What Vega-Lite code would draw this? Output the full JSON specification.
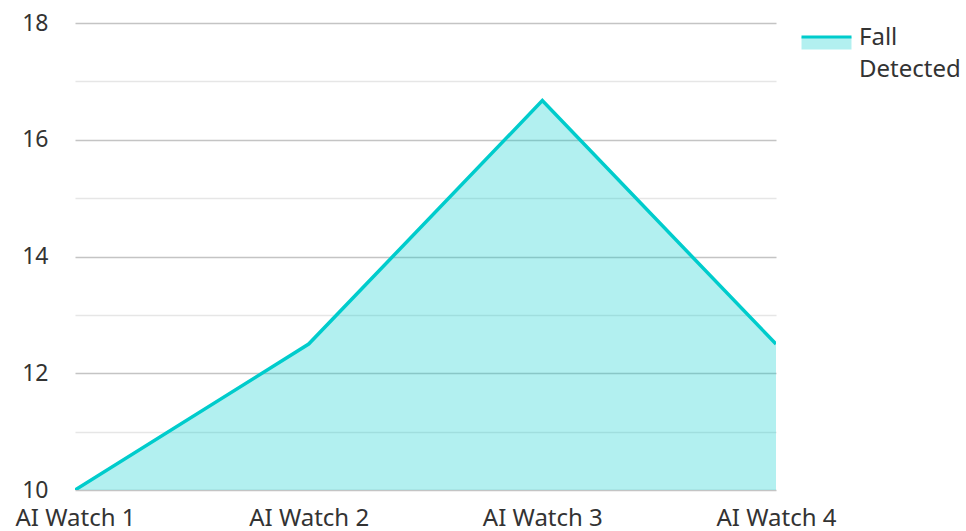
{
  "$schema": "https://vega.github.io/schema/vega-lite/v6.json",
  "width": 701,
  "height": 467,
  "autosize": "none",
  "padding": {"left": 75, "top": 23, "right": 190, "bottom": 41},
  "background": "white",
  "config": {
    "font": "Noto Sans",
    "view": {"stroke": null},
    "legend": {
      "title": null,
      "orient": "none",
      "legendX": 725,
      "legendY": -12,
      "padding": 0,
      "labelFontSize": 24,
      "labelColor": "#333333",
      "labelOffset": 6,
      "labelLimit": 300,
      "symbolType": "M-1,-0.02 L1,-0.02 L1,0.48 L-1,0.48 Z",
      "symbolSize": 2500,
      "symbolStrokeWidth": 3,
      "symbolDash": [50, 1000],
      "symbolOpacity": 1
    }
  },
  "data": {
    "values": [
      {"device": "AI Watch 1", "falls": 10},
      {"device": "AI Watch 2", "falls": 12.5},
      {"device": "AI Watch 3", "falls": 16.67},
      {"device": "AI Watch 4", "falls": 12.5}
    ]
  },
  "encoding": {
    "x": {
      "field": "device",
      "type": "ordinal",
      "scale": {"type": "point", "padding": 0},
      "axis": {
        "title": null,
        "labelAngle": 0,
        "labelFontSize": 24,
        "labelColor": "#333333",
        "labelPadding": 16,
        "ticks": false,
        "domain": false,
        "grid": false
      }
    },
    "y": {
      "field": "falls",
      "type": "quantitative",
      "scale": {"domain": [10, 18], "nice": false, "zero": false},
      "axis": {
        "title": null,
        "values": [10, 11, 12, 13, 14, 15, 16, 17, 18],
        "labelExpr": "datum.value % 2 === 0 ? datum.label : ''",
        "labelFontSize": 23,
        "labelColor": "#333333",
        "labelPadding": 27,
        "ticks": false,
        "domain": false,
        "grid": true,
        "gridWidth": 1.5,
        "gridColor": {"condition": {"test": "datum.value % 2 === 0", "value": "#c4c4c4"}, "value": "#e6e6e6"}
      }
    }
  },
  "layer": [
    {
      "mark": {"type": "area", "clip": true},
      "encoding": {
        "fill": {
          "datum": "Fall Detected",
          "scale": {"range": ["rgba(0,204,204,0.3)"]},
          "legend": {
            "labelExpr": "split(datum.label, ' ')",
            "encode": {"labels": {"update": {"lineHeight": {"value": 32}}}}
          }
        }
      }
    },
    {
      "mark": {"type": "line", "strokeWidth": 3.5, "clip": true},
      "encoding": {
        "stroke": {
          "datum": "Fall Detected",
          "scale": {"range": ["#00cccc"]},
          "legend": {
            "labelExpr": "split(datum.label, ' ')",
            "encode": {"labels": {"update": {"lineHeight": {"value": 32}}}}
          }
        }
      }
    }
  ]
}
